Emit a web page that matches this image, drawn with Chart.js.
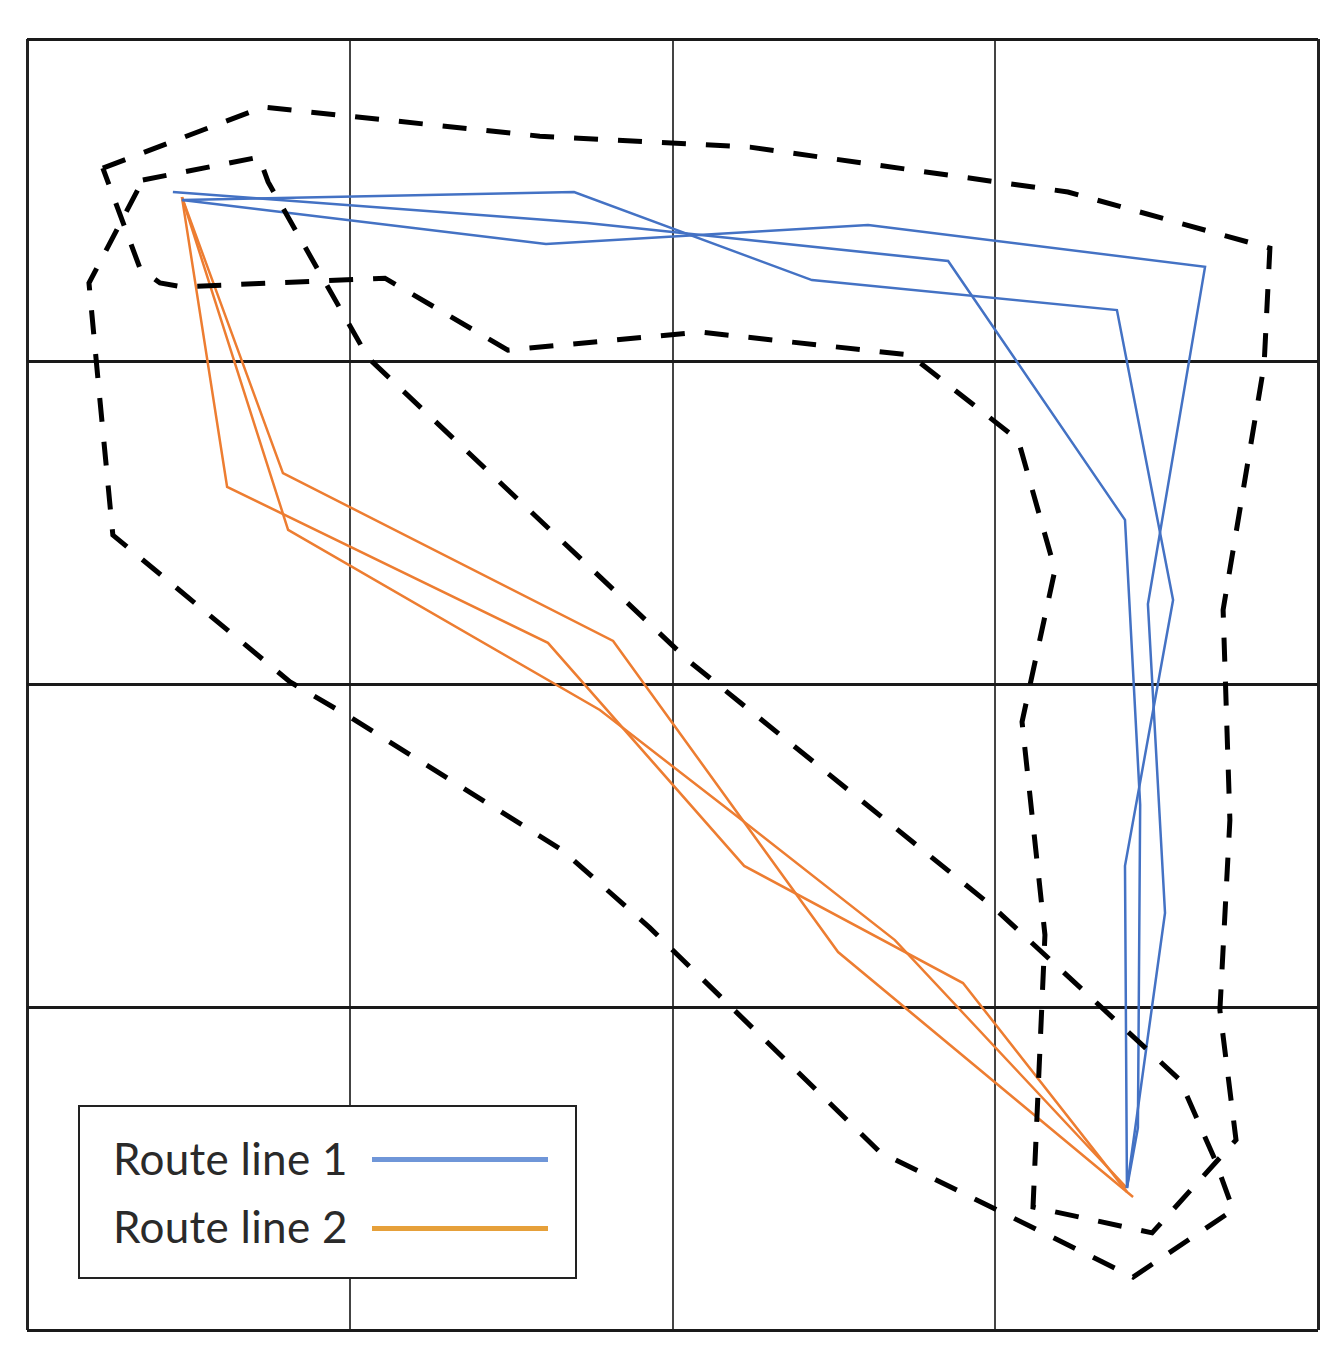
<!DOCTYPE html>
<html>
<head>
<meta charset="utf-8">
<script src="https://cdn.jsdelivr.net/npm/chart.js@4.4.0/dist/chart.umd.min.js"></script>
<style>
  html, body { margin: 0; padding: 0; background: #ffffff; }
  #wrap { position: relative; width: 1344px; height: 1360px; }
  canvas { display: block; }
  #legend {
    position: absolute; left: 78px; top: 1105px; width: 495px; height: 170px;
    border: 2px solid #222; background: #fff;
    font-family: Lato, "Open Sans", sans-serif; color: #2a2a2a;
  }
  #legend .txt { position: absolute; left: 33px; font-size: 44px; line-height: 44px; white-space: nowrap; letter-spacing: 0.3px; }
  #legend .sw { position: absolute; left: 292px; width: 176px; height: 5px; }
</style>
</head>
<body>
<div id="wrap">
  <canvas id="c" width="1344" height="1360"></canvas>
  <div id="legend"></div>
</div>
<script>
// ---- data (map units: x 0-400 left to right, y 0-400 top to bottom) ----
const gridTicks = [0, 100, 200, 300, 400];

const seriesNames = ["Route line 1", "Route line 2"];

const blueRouteA = [[48.0,49.9],[169.5,47.4],[243.2,74.7],[337.7,84.0],[355.1,173.8],[340.2,256.2],[340.8,356.0]];
const blueRouteB = [[48.0,49.9],[160.8,63.5],[260.6,57.6],[365.0,70.6],[347.3,175.1],[352.6,270.8],[340.8,356.0]];
const blueRouteC = [[45.2,47.4],[173.5,57.0],[285.4,68.8],[340.2,149.0],[344.9,237.3],[344.2,337.4],[340.8,356.0]];

const orangeRouteA = [[48.0,49.0],[62.0,138.8],[161.4,187.1],[222.2,256.2],[290.0,292.5],[340.8,357.2]];
const orangeRouteB = [[48.0,49.0],[79.3,134.5],[181.6,186.5],[251.3,282.9],[342.7,358.8]];
const orangeRouteC = [[48.0,49.0],[80.9,152.1],[177.5,207.9],[218.7,239.8],[268.9,279.2],[340.8,356.0]];

const zoneNorthEast = [[23.5,40.0],[73.1,21.1],[158.9,30.1],[224.0,33.5],[322.5,47.4],[385.1,64.8],[383.3,101.0],
  [370.6,176.9],[372.7,242.0],[369.6,300.9],[374.6,341.1],[348.6,369.9],[311.7,361.9],[315.4,277.6],
  [308.3,211.6],[318.5,164.5],[307.1,124.2],[273.6,97.9],[208.5,90.8],[149.0,96.4],[110.9,74.1],
  [48.0,76.8],[41.2,75.6],[35.0,71.0],[23.5,40.0]];
const zoneDiagonal = [[35.9,43.7],[71.9,36.6],[74.7,44.3],[105.7,98.8],[205.4,193.0],[299.3,268.9],[357.2,322.5],
  [368.1,347.3],[373.7,362.8],[342.7,383.6],[264.3,344.9],[193.0,275.4],[165.8,251.3],[100.1,210.1],
  [81.5,199.2],[26.6,153.7],[22.6,111.9],[19.2,75.6],[35.9,43.7]];

// ---- styles ----
const routeColors = ["#4472c4", "#ed7d31"];
const legendColors = ["#6f96d8", "#e6a03a"];

const toPts = arr => arr.map(p => ({ x: p[0], y: p[1] }));

function routeDs(arr, idx) {
  return {
    label: seriesNames[idx], data: toPts(arr), showLine: true,
    borderColor: routeColors[idx], backgroundColor: routeColors[idx],
    borderWidth: 2.5, pointRadius: 0, tension: 0, order: 1
  };
}
function zoneDs(arr) {
  return {
    label: "zone", data: toPts(arr), showLine: true,
    borderColor: "#000", borderWidth: 5, borderDash: [24, 20], borderCapStyle: "butt",
    pointRadius: 0, tension: 0, order: 0
  };
}

const isEdge = v => v === gridTicks[0] || v === gridTicks[gridTicks.length - 1];

new Chart(document.getElementById("c"), {
  type: "scatter",
  data: {
    datasets: [
      zoneDs(zoneNorthEast), zoneDs(zoneDiagonal),
      routeDs(blueRouteA, 0), routeDs(blueRouteB, 0), routeDs(blueRouteC, 0),
      routeDs(orangeRouteA, 1), routeDs(orangeRouteB, 1), routeDs(orangeRouteC, 1)
    ]
  },
  options: {
    responsive: false, animation: false, devicePixelRatio: 1,
    layout: { padding: { left: 27, top: 39, right: 26, bottom: 30 } },
    plugins: { legend: { display: false }, tooltip: { enabled: false } },
    scales: {
      x: {
        type: "linear", min: gridTicks[0], max: gridTicks[gridTicks.length - 1],
        afterBuildTicks: s => { s.ticks = gridTicks.map(v => ({ value: v })); },
        ticks: { display: false },
        border: { display: false },
        grid: {
          drawTicks: false,
          color: c => isEdge(c.tick.value) ? "#222" : "#444",
          lineWidth: c => isEdge(c.tick.value) ? 3 : 2
        }
      },
      y: {
        type: "linear", reverse: true, min: gridTicks[0], max: gridTicks[gridTicks.length - 1],
        afterBuildTicks: s => { s.ticks = gridTicks.map(v => ({ value: v })); },
        ticks: { display: false },
        border: { display: false },
        grid: {
          drawTicks: false,
          color: c => "#1a1a1a",
          lineWidth: c => 3
        }
      }
    }
  }
});

// legend built from the series names and colours
const legend = document.getElementById("legend");
const textTops = [29, 97];
const swatchTops = [50, 119];
seriesNames.forEach((name, i) => {
  const t = document.createElement("div");
  t.className = "txt"; t.style.top = textTops[i] + "px"; t.textContent = name;
  legend.appendChild(t);
  const s = document.createElement("div");
  s.className = "sw"; s.style.top = swatchTops[i] + "px"; s.style.background = legendColors[i];
  legend.appendChild(s);
});
</script>
</body>
</html>
